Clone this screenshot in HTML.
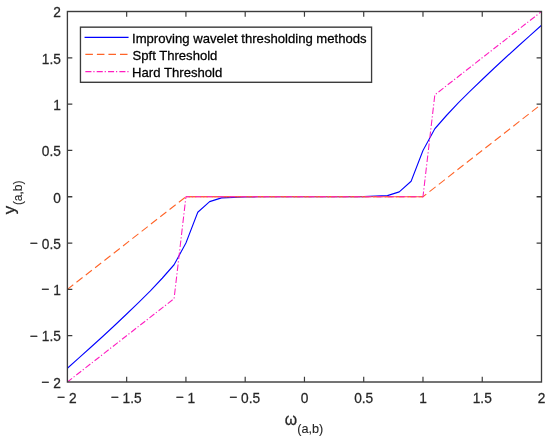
<!DOCTYPE html>
<html><head><meta charset="utf-8"><title>Threshold functions</title>
<style>html,body{margin:0;padding:0;background:#fff;overflow:hidden;}svg{display:block;}</style>
</head><body>
<svg width="550" height="440" viewBox="0 0 550 440">
<rect x="0" y="0" width="550" height="440" fill="#ffffff"/>
<g transform="scale(0.982143,1.047619)">
<defs><clipPath id="c"><rect x="67.63" y="9.98" width="484.72" height="355.66"/></clipPath></defs>
<g clip-path="url(#c)" fill="none" stroke-linejoin="round">
<polyline points="68.63,351.46 80.69,341.38 92.76,331.22 104.83,320.96 116.90,310.44 128.97,299.74 141.03,288.86 153.10,277.64 165.17,265.61 177.24,252.70 189.31,232.01 201.37,202.66 213.44,192.49 225.51,188.91 237.58,188.38 249.65,187.98 261.71,187.85 273.78,187.82 285.85,187.81 297.92,187.81 309.99,187.81 322.05,187.81 334.12,187.81 346.19,187.80 358.26,187.76 370.33,187.63 382.39,187.23 394.46,186.70 406.53,183.12 418.60,172.95 430.67,143.60 442.73,122.91 454.80,110.00 466.87,97.98 478.94,86.75 491.01,75.87 503.07,65.18 515.14,54.65 527.21,44.40 539.28,34.23 551.35,24.15" stroke="#0000ff" stroke-width="1.1"/>
<polyline points="189.31,187.81 430.67,187.81" stroke="#ff6428" stroke-width="1.1"/>
<polyline points="68.63,276.22 189.31,187.81 430.67,187.81 551.35,99.39" stroke="#ff6428" stroke-width="1.1" stroke-dasharray="7.7 4.05" stroke-dashoffset="0.3"/>
<polyline points="68.63,364.64 177.24,285.06 189.31,187.81 430.67,187.81 442.73,90.55 551.35,10.98" stroke="#ff1cc0" stroke-width="1.1" stroke-dasharray="6.2 1.95 1.2 2.19" stroke-dashoffset="0.3"/>
</g>
<g stroke="#3c3c3c" fill="none">
<path d="M128.97,364.64V359.64M128.97,10.98V15.98M68.63,320.43H73.63M551.35,320.43H546.35M189.31,364.64V359.64M189.31,10.98V15.98M68.63,276.22H73.63M551.35,276.22H546.35M249.65,364.64V359.64M249.65,10.98V15.98M68.63,232.01H73.63M551.35,232.01H546.35M309.99,364.64V359.64M309.99,10.98V15.98M68.63,187.81H73.63M551.35,187.81H546.35M370.33,364.64V359.64M370.33,10.98V15.98M68.63,143.60H73.63M551.35,143.60H546.35M430.67,364.64V359.64M430.67,10.98V15.98M68.63,99.39H73.63M551.35,99.39H546.35M491.01,364.64V359.64M491.01,10.98V15.98M68.63,55.18H73.63M551.35,55.18H546.35" stroke-width="1.2"/>
<rect x="68.63" y="10.98" width="482.72" height="353.66" stroke-width="1.35"/>
</g>
<g font-family="&quot;Liberation Sans&quot;, Arial, Helvetica, sans-serif" font-size="14.0" fill="#262626" stroke="#262626" stroke-width="0.25">
<text x="62.00" y="370.14" text-anchor="end"><tspan dy="-0.6">&#8722;</tspan><tspan dx="4.0" dy="0.6">2</tspan></text>
<text x="68.13" y="384.50" text-anchor="middle"><tspan dy="-0.6">&#8722;</tspan><tspan dx="4.0" dy="0.6">2</tspan></text>
<text x="62.00" y="325.93" text-anchor="end"><tspan dy="-0.6">&#8722;</tspan><tspan dx="4.0" dy="0.6">1.5</tspan></text>
<text x="128.47" y="384.50" text-anchor="middle"><tspan dy="-0.6">&#8722;</tspan><tspan dx="4.0" dy="0.6">1.5</tspan></text>
<text x="62.00" y="281.72" text-anchor="end"><tspan dy="-0.6">&#8722;</tspan><tspan dx="4.0" dy="0.6">1</tspan></text>
<text x="188.81" y="384.50" text-anchor="middle"><tspan dy="-0.6">&#8722;</tspan><tspan dx="4.0" dy="0.6">1</tspan></text>
<text x="62.00" y="237.51" text-anchor="end"><tspan dy="-0.6">&#8722;</tspan><tspan dx="4.0" dy="0.6">0.5</tspan></text>
<text x="249.15" y="384.50" text-anchor="middle"><tspan dy="-0.6">&#8722;</tspan><tspan dx="4.0" dy="0.6">0.5</tspan></text>
<text x="62.00" y="193.31" text-anchor="end">0</text>
<text x="309.99" y="384.50" text-anchor="middle">0</text>
<text x="62.00" y="149.10" text-anchor="end">0.5</text>
<text x="370.33" y="384.50" text-anchor="middle">0.5</text>
<text x="62.00" y="104.89" text-anchor="end">1</text>
<text x="430.67" y="384.50" text-anchor="middle">1</text>
<text x="62.00" y="60.68" text-anchor="end">1.5</text>
<text x="491.01" y="384.50" text-anchor="middle">1.5</text>
<text x="62.00" y="16.48" text-anchor="end">2</text>
<text x="551.35" y="384.50" text-anchor="middle">2</text>
</g>
<g font-family="&quot;Liberation Sans&quot;, Arial, Helvetica, sans-serif" fill="#262626" stroke="#262626" stroke-width="0.25">
<text x="289.85" y="405.40" font-size="16.13">&#969;</text>
<text x="302.60" y="413.20" font-size="11.8" stroke-width="0.1" textLength="26.54" lengthAdjust="spacingAndGlyphs">(a,b)</text>
<text transform="translate(14.90,204.50) rotate(-90)" x="0" y="0" font-size="16.13">y</text>
<text transform="translate(22.20,195.80) rotate(-90)" x="0" y="0" font-size="12.2" stroke-width="0.1" textLength="23.5" lengthAdjust="spacingAndGlyphs">(a,b)</text>
</g>
<rect x="81.92" y="25.93" width="296.41" height="52.63" fill="#ffffff" stroke="#3c3c3c" stroke-width="1.35"/>
<line x1="86.10" y1="35.70" x2="130.90" y2="35.70" stroke="#0000ff" stroke-width="1.1"/>
<text x="134.40" y="41.00" font-family="&quot;Liberation Sans&quot;, Arial, Helvetica, sans-serif" font-size="12.6" fill="#000000" textLength="238.9" lengthAdjust="spacingAndGlyphs" stroke="#000000" stroke-width="0.25">Improving wavelet thresholding methods</text>
<line x1="86.10" y1="51.93" x2="130.90" y2="51.93" stroke="#ff6428" stroke-width="1.1" stroke-dasharray="7.7 4.05" stroke-dashoffset="-0.8"/>
<text x="134.90" y="57.10" font-family="&quot;Liberation Sans&quot;, Arial, Helvetica, sans-serif" font-size="12.6" fill="#000000" textLength="86.46" lengthAdjust="spacingAndGlyphs" stroke="#000000" stroke-width="0.25">Spft Threshold</text>
<line x1="86.10" y1="68.34" x2="130.90" y2="68.34" stroke="#ff1cc0" stroke-width="1.1" stroke-dasharray="6.2 1.95 1.2 2.19" stroke-dashoffset="-0.8"/>
<text x="134.50" y="73.40" font-family="&quot;Liberation Sans&quot;, Arial, Helvetica, sans-serif" font-size="12.6" fill="#000000" textLength="91.85" lengthAdjust="spacingAndGlyphs" stroke="#000000" stroke-width="0.25">Hard Threshold</text>
</g>
</svg>
</body></html>
